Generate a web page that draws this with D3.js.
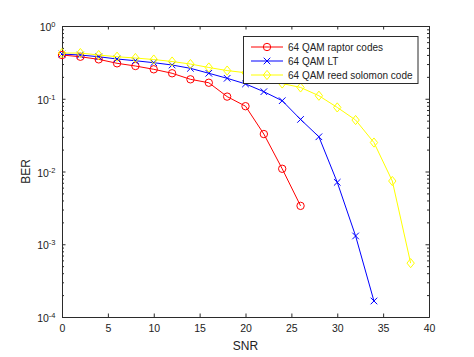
<!DOCTYPE html>
<html><head><meta charset="utf-8">
<script src="https://cdn.jsdelivr.net/npm/d3@7"></script>
<style>
html,body{margin:0;padding:0;background:#fff;}
svg{display:block;font-family:"Liberation Sans",Arial,Helvetica,sans-serif;}
</style></head>
<body><svg id="c" width="474" height="357"></svg>
<script>
const snr = [0,2,4,6,8,10,12,14,16,18,20,22,24,26,28,30,32,34,36,38];
const raptor = [0.399,0.378,0.348,0.307,0.282,0.254,0.224,0.185,0.166,0.107,0.079,0.0327,0.0109,0.00337];
const lt = [0.412,0.399,0.378,0.352,0.333,0.313,0.291,0.262,0.224,0.191,0.160,0.125,0.094,0.052,0.030,0.0071,0.0013,0.000166];
const rs = [0.425,0.425,0.399,0.378,0.363,0.346,0.325,0.300,0.269,0.244,0.228,0.195,0.162,0.143,0.110,0.076,0.051,0.025,0.0074,0.00055];
const seriesNames = ["64 QAM raptor codes","64 QAM LT","64 QAM reed solomon code"];
const seriesColors = ["#ff0000","#0000ff","#ffff00"];
const seriesMarkers = ["circle","x","diamond"];
const xTicks = [0,5,10,15,20,25,30,35,40];
const yTicks = [1e-4,1e-3,1e-2,1e-1,1];
const yExps = ["-4","-3","-2","-1","0"];

const svg = d3.select("#c");
const L=62, R=429, T=26, B=317;
const x = d3.scaleLinear().domain([0,40]).range([L,R]);
const y = d3.scaleLog().domain([1e-4,1]).range([B,T]);
const axisColor = "#2b2b2b";

const minor = [];
for (let e=-4;e<0;e++) for (let k=2;k<=9;k++) minor.push(k*Math.pow(10,e));

function styleAxis(g){
  g.selectAll("path,line").attr("stroke",axisColor).attr("stroke-width",1);
  g.selectAll("text").attr("fill","#222");
}
// bottom
const gB = svg.append("g").attr("transform",`translate(0,${B})`)
  .call(d3.axisBottom(x).tickValues(xTicks).tickSizeInner(-3.5).tickSizeOuter(0).tickPadding(8).tickFormat(d3.format("d")));
gB.selectAll("text").attr("font-size","10.5px");
styleAxis(gB);
// top
const gT = svg.append("g").attr("transform",`translate(0,${T})`)
  .call(d3.axisTop(x).tickValues(xTicks).tickSizeInner(-3.5).tickSizeOuter(0).tickFormat(""));
styleAxis(gT);
// left
const gL = svg.append("g").attr("transform",`translate(${L},0)`)
  .call(d3.axisLeft(y).tickValues(yTicks).tickSizeInner(-3.5).tickSizeOuter(0).tickPadding(10).tickFormat(""));
gL.selectAll(".tick").append("text")
  .attr("x",-6.5).attr("dy","0.45em").attr("text-anchor","end").attr("font-size","10.5px").attr("fill","#222")
  .each(function(d,i){
    const t = d3.select(this);
    t.append("tspan").text("10");
    t.append("tspan").attr("dy","-0.55em").attr("font-size","7.5px").text(yExps[yTicks.indexOf(d)]);
  });
styleAxis(gL);
const gLm = svg.append("g").attr("transform",`translate(${L},0)`)
  .call(d3.axisLeft(y).tickValues(minor).tickSizeInner(-2).tickSizeOuter(0).tickFormat(""));
styleAxis(gLm);
// right
const gR = svg.append("g").attr("transform",`translate(${R},0)`)
  .call(d3.axisRight(y).tickValues(yTicks).tickSizeInner(-3.5).tickSizeOuter(0).tickFormat(""));
styleAxis(gR);
const gRm = svg.append("g").attr("transform",`translate(${R},0)`)
  .call(d3.axisRight(y).tickValues(minor).tickSizeInner(-2).tickSizeOuter(0).tickFormat(""));
styleAxis(gRm);

// labels
svg.append("text").attr("x",(L+R)/2).attr("y",350).attr("text-anchor","middle")
  .attr("font-size","12px").attr("fill","#222").text("SNR");
svg.append("text").attr("transform",`translate(30,${(T+B)/2}) rotate(-90)`).attr("text-anchor","middle")
  .attr("font-size","12px").attr("fill","#222").text("BER");

function drawMarker(g, type, cx, cy, color){
  if (type==="circle"){
    g.append("circle").attr("cx",cx).attr("cy",cy).attr("r",3.7).attr("fill","none").attr("stroke",color).attr("stroke-width",1);
  } else if (type==="x"){
    const s=3.3;
    g.append("path").attr("d",`M${cx-s},${cy-s}L${cx+s},${cy+s}M${cx-s},${cy+s}L${cx+s},${cy-s}`).attr("stroke",color).attr("stroke-width",1).attr("fill","none");
  } else {
    const s=4.6;
    g.append("path").attr("d",`M${cx},${cy-s}L${cx+s*0.8},${cy}L${cx},${cy+s}L${cx-s*0.8},${cy}Z`).attr("stroke",color).attr("stroke-width",1).attr("fill","none");
  }
}

const data = [raptor, lt, rs];
const line = d3.line().x(d=>x(d[0])).y(d=>y(d[1]));
const plot = svg.append("g");
data.forEach((vals,i)=>{
  const pts = vals.map((v,j)=>[snr[j],v]);
  const g = plot.append("g");
  g.append("path").datum(pts).attr("d",line).attr("fill","none").attr("stroke",seriesColors[i]).attr("stroke-width",1);
  pts.forEach(p=>drawMarker(g, seriesMarkers[i], x(p[0]), y(p[1]), seriesColors[i]));
});

// legend
const lg = svg.append("g");
const lx=243.5, ly=36.5, lw=174.5, lh=47;
lg.append("rect").attr("x",lx).attr("y",ly).attr("width",lw).attr("height",lh).attr("fill","#fff").attr("stroke",axisColor).attr("stroke-width",1);
seriesNames.forEach((n,i)=>{
  const ry = 47 + i*14;
  lg.append("line").attr("x1",251).attr("x2",283).attr("y1",ry).attr("y2",ry).attr("stroke",seriesColors[i]).attr("stroke-width",1);
  drawMarker(lg, seriesMarkers[i], 267, ry, seriesColors[i]);
  lg.append("text").attr("x",288).attr("y",ry).attr("dy","0.35em").attr("font-size","10px").attr("fill","#222").text(n);
});
</script></body></html>
